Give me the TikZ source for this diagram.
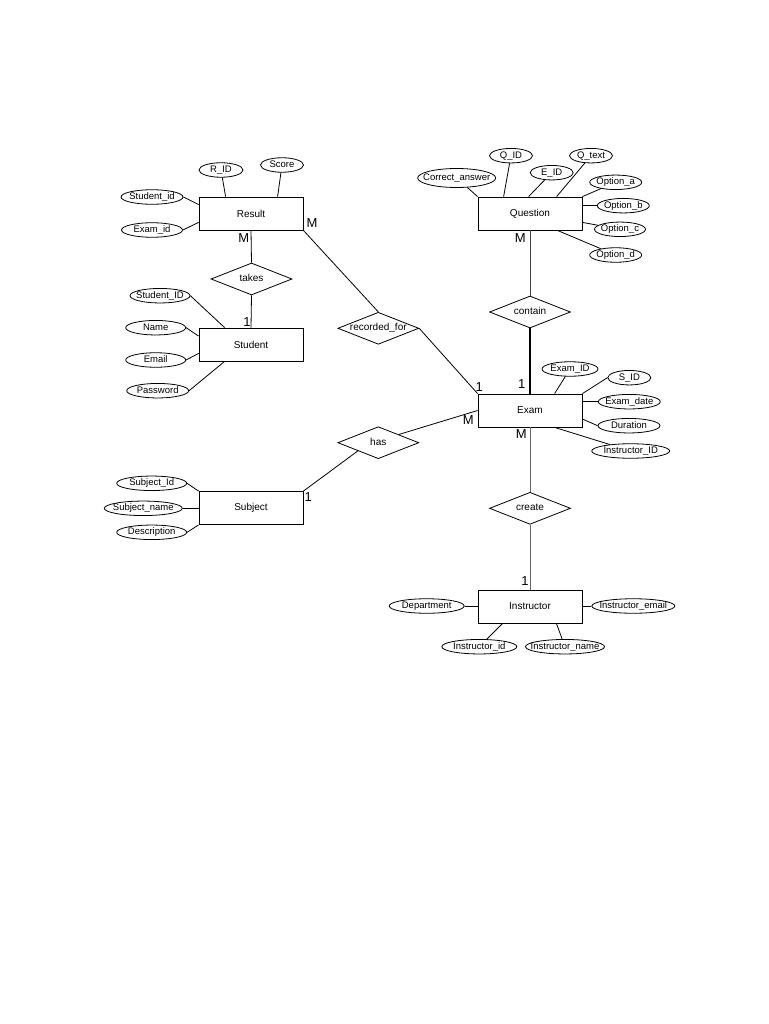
\documentclass[tikz,border=0pt]{standalone}
\usepackage{fontspec}
\setmainfont{Liberation Sans}
\usetikzlibrary{shapes.geometric}
\newcommand\tx[1]{\makebox[0pt]{#1}}
\begin{document}
\begin{tikzpicture}[x=1pt,y=-1pt, line width=0.8pt,
  ent/.style={draw, rectangle, minimum width=104, minimum height=33, inner sep=0, font=\fontsize{10}{12}\selectfont},
  attr/.style={draw, ellipse, inner sep=0, minimum height=14.5, text height=6.8pt, text depth=2pt, font=\fontsize{9.5}{11}\selectfont},
  rel/.style={draw, diamond, aspect=2.5, inner sep=0, minimum width=81, minimum height=32, text height=7.2pt, text depth=2.2pt, font=\fontsize{10}{12}\selectfont},
  card/.style={inner sep=0, font=\fontsize{13}{15}\selectfont},
  gline/.style={draw=black!60},
  thick line/.style={line width=1.6pt}]
\fill[white] (0,0) rectangle (768,1024);
\useasboundingbox (0,0) rectangle (768,1024);

% Entities
\node[ent] (result) at (251,213.5) {Result};
\node[ent] (student) at (251,344.5) {Student};
\node[ent] (subject) at (251,508) {Subject};
\node[ent] (question) at (530,213.5) {Question};
\node[ent] (exam) at (530,410.5) {Exam};
\node[ent] (instructor) at (530,606.5) {Instructor};

% Relationships
\node[rel] (takes) at (251.5,279) {\tx{takes}};
\node[rel] (recfor) at (378.3,328.3) {\tx{recorded\_for}};
\node[rel] (has) at (378.3,442.7) {\tx{has}};
\node[rel] (contain) at (530,312) {\tx{contain}};
\node[rel] (create) at (530,508.3) {\tx{create}};

% Result attributes
\node[attr, minimum width=44] (rid) at (221,170) {\tx{R\_ID}};
\node[attr, minimum width=43] (score) at (282,165) {\tx{Score}};
\node[attr, minimum width=62] (rstid) at (152,197) {\tx{Student\_id}};
\node[attr, minimum width=61] (rexid) at (152,230) {\tx{Exam\_id}};

% Student attributes
\node[attr, minimum width=60] (stid) at (160,295.7) {\tx{Student\_ID}};
\node[attr, minimum width=60] (name) at (155.7,327.7) {\tx{Name}};
\node[attr, minimum width=60] (email) at (155.7,360) {\tx{Email}};
\node[attr, minimum width=62] (pass) at (157.7,390.7) {\tx{Password}};

% Subject attributes
\node[attr, minimum width=70] (subid) at (151.7,483.3) {\tx{Subject\_Id}};
\node[attr, minimum width=78] (subname) at (143.3,508.3) {\tx{Subject\_name}};
\node[attr, minimum width=70] (desc) at (151.7,532.3) {\tx{Description}};

% Question attributes
\node[attr, minimum width=78, minimum height=19] (corr) at (456.7,178) {\tx{Correct\_answer}};
\node[attr, minimum width=43] (qid) at (511,155.7) {\tx{Q\_ID}};
\node[attr, minimum width=43] (eid) at (551.7,172.7) {\tx{E\_ID}};
\node[attr, minimum width=43] (qtext) at (591,155.7) {\tx{Q\_text}};
\node[attr, minimum width=52] (opa) at (615.7,182.3) {\tx{Option\_a}};
\node[attr, minimum width=52] (opb) at (623.3,205.7) {\tx{Option\_b}};
\node[attr, minimum width=51] (opc) at (620,229.3) {\tx{Option\_c}};
\node[attr, minimum width=52] (opd) at (615.7,255) {\tx{Option\_d}};

% Exam attributes
\node[attr, minimum width=56] (examid) at (570,369) {\tx{Exam\_ID}};
\node[attr, minimum width=43] (sid) at (629.3,377.7) {\tx{S\_ID}};
\node[attr, minimum width=62] (exdate) at (629.3,401.7) {\tx{Exam\_date}};
\node[attr, minimum width=62] (dur) at (629,425.7) {\tx{Duration}};
\node[attr, minimum width=78] (instid) at (630.7,451) {\tx{Instructor\_ID}};

% Instructor attributes
\node[attr, minimum width=75] (dept) at (426.7,606) {\tx{Department}};
\node[attr, minimum width=83] (iemail) at (633.3,606) {\tx{Instructor\_email}};
\node[attr, minimum width=75] (iid) at (479.3,646.7) {\tx{Instructor\_id}};
\node[attr, minimum width=79] (iname) at (565,646.7) {\tx{Instructor\_name}};

% Attribute connectors
\draw (rid) -- ([xshift=27]result.north west);
\draw (score) -- ([xshift=79]result.north west);
\draw (rstid.east) -- ([yshift=-8]result.north west);
\draw (rexid.east) -- ([yshift=8]result.south west);

\draw (stid.east) -- ([xshift=26]student.north west);
\draw (name.east) -- ([yshift=-8.5]student.north west);
\draw (email.east) -- ([yshift=8]student.south west);
\draw (pass.east) -- ([xshift=26]student.south west);

\draw (subid.east) -- (subject.north west);
\draw (subname.east) -- (subname.east -| subject.west);
\draw (desc.east) -- (subject.south west);

\draw (corr) -- (question.north west);
\draw (qid) -- ([xshift=26]question.north west);
\draw (eid) -- ([xshift=51]question.north west);
\draw (qtext) -- ([xshift=79]question.north west);
\draw (opa) -- (question.north east);
\draw (opb.west) -- (opb.west -| question.east);
\draw (opc) -- ([yshift=8]question.south east);
\draw (opd) -- ([xshift=-25]question.south east);

\draw (examid) -- ([xshift=77]exam.north west);
\draw (sid.west) -- (exam.north east);
\draw (exdate.west) -- (exdate.west -| exam.east);
\draw (dur.west) -- ([yshift=-8.5]exam.east);
\draw (instid) -- ([xshift=77]exam.south west);

\draw (dept.east) -- (dept.east -| instructor.west);
\draw (iemail.west) -- (iemail.west -| instructor.east);
\draw (iid) -- ([xshift=25]instructor.south west);
\draw (iname) -- ([xshift=-26]instructor.south east);

% Relationship connectors
\draw (result.south) -- (takes.north);
\draw (takes.south) -- (student.north);
\draw (result.south east) -- (recfor.north);
\draw (recfor.east) -- (exam.north west);
\draw (subject.north east) -- (has.south west);
\draw (has.north east) -- (exam.west);
\draw[draw=black!75] (question.south) -- (contain.north);
\draw[thick line] (contain.south) -- (exam.north);
\draw[gline] (exam.south) -- (create.north);
\draw[gline] (create.south) -- (instructor.north);

% Cardinalities
\node[card] (c1) at (243.7,237.7) {M};
\node[card] (c2) at (312,223.5) {M};
\node[card] (c3) at (247,321.7) {1};
\node[card] (c4) at (520.3,237.7) {M};
\node[card] (c5) at (479.3,387.3) {1};
\node[card] (c6) at (521.7,384.3) {1};
\node[card] (c7) at (468.3,420) {M};
\node[card] (c8) at (521.3,433.7) {M};
\node[card] (c9) at (308.3,496.7) {1};
\node[card] (c10) at (525,581.3) {1};
\end{tikzpicture}
\end{document}
